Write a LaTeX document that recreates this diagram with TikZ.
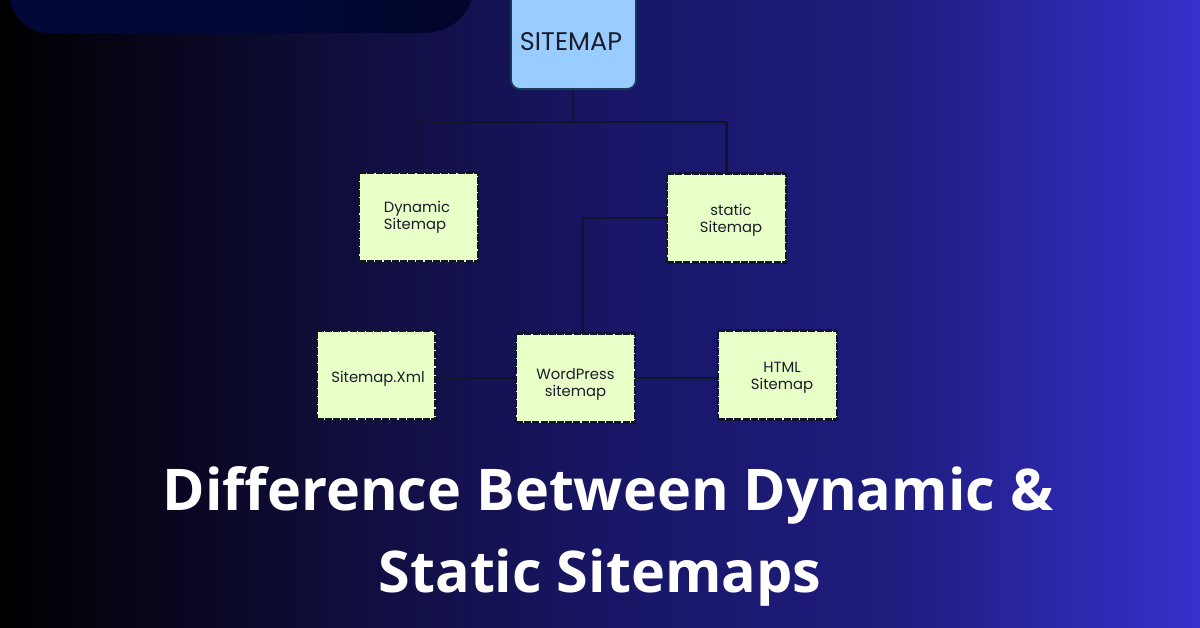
\documentclass[tikz,border=0pt]{standalone}
\usepackage{fontspec}
\setmainfont{Open Sans}
\newfontfamily\labelfont{Poppins}
\definecolor{linedark}{HTML}{12142E}
\definecolor{rootedge}{HTML}{1A3A5A}
\definecolor{boxfill}{HTML}{E8FFC8}
\definecolor{skyfill}{HTML}{99CCFF}
\definecolor{inkdark}{HTML}{1C1C2A}
\definecolor{bgA}{HTML}{000000}
\definecolor{bgB}{HTML}{0F0C37}
\definecolor{bgC}{HTML}{181664}
\definecolor{bgD}{HTML}{1E1C7D}
\definecolor{bgE}{HTML}{3830CC}
\definecolor{topA}{HTML}{020837}
\definecolor{topB}{HTML}{02062C}
\pgfdeclarehorizontalshading{bgblue}{100bp}{
  color(0bp)=(bgA);
  color(25bp)=(bgA);
  color(38bp)=(bgB);
  color(50bp)=(bgC);
  color(62bp)=(bgD);
  color(75bp)=(bgE);
  color(100bp)=(bgE)
}
\pgfdeclarehorizontalshading{topgrad}{100bp}{
  color(0bp)=(topA);
  color(50bp)=(topA);
  color(75bp)=(topB);
  color(100bp)=(topB)
}
\tikzset{
  x=1pt,y=-1pt,
  leafbox/.style={draw=linedark,line width=2.4pt,dash pattern=on 7pt off 1.2pt,fill=boxfill,
    minimum width=119pt,minimum height=89pt,inner sep=0pt},
  rootbox/.style={draw=rootedge,line width=1.8pt,fill=skyfill,rounded corners=9pt,
    minimum width=125pt,minimum height=106pt,inner sep=0pt},
  leaftext/.style={inner sep=0pt,text=inkdark,font=\labelfont\fontsize{14.8}{17}\selectfont},
  link/.style={draw=linedark,line width=2.4pt},
  titletext/.style={text=white,font=\bfseries\fontsize{57.5}{66}\selectfont,inner sep=0pt,anchor=center}
}
\begin{document}
\begin{tikzpicture}
\useasboundingbox (0,0) rectangle (1200,627);
\shade[shading=bgblue] (0,0) rectangle (1200,627);
\begin{scope}
\clip (0,0) rectangle (1200,627);
\shade[shading=topgrad] (5,-40) -- (477,-40) -- (477,-20)
  .. controls (472,15) and (452,33) .. (422,33) -- (50,33)
  .. controls (25,33) and (10,15) .. (5,-20) -- cycle;
\end{scope}
\node[rootbox] (root) at (573.5,36) {};
\node[inner sep=0pt,text=inkdark,font=\labelfont\fontsize{25.5}{28}\selectfont] (roottext) at (571,42) {SITEMAP};
\coordinate (split) at (573,122);
\node[leafbox] (dyn) at (418.5,217) {};
\node[leafbox] (stat) at (726.5,218) {};
\node[leafbox] (xml) at (376,375) {};
\node[leafbox] (wp) at (575.5,378) {};
\node[leafbox] (html) at (777.5,375) {};
\node[leaftext,align=left] (dyntext) at (417,217) {Dynamic\\Sitemap};
\node[leaftext,align=center] (stattext) at (731,220) {static\\Sitemap};
\node[leaftext] (xmltext) at (378,379) {Sitemap.Xml};
\node[leaftext,align=center] (wptext) at (575.5,384) {WordPress\\sitemap};
\node[leaftext,align=center] (htmltext) at (782,378) {HTML\\Sitemap};
\draw[link] (root.south -| split) -- (split);
\draw[link] (dyn.north) |- (split) -| (stat.north);
\coordinate (wpdrop) at (582.5,334);
\draw[link] (stat.west) -| (wpdrop);
\coordinate (xmlout) at (435,378);
\coordinate (htmlin) at (718,378);
\draw[link] (xmlout) -- (wp.west);
\draw[link] (wp.east) -- (htmlin);
\node[titletext] (t1) at (608,495) {Difference Between Dynamic \&};
\node[titletext] (t2) at (600,578) {Static Sitemaps};
\end{tikzpicture}
\end{document}
